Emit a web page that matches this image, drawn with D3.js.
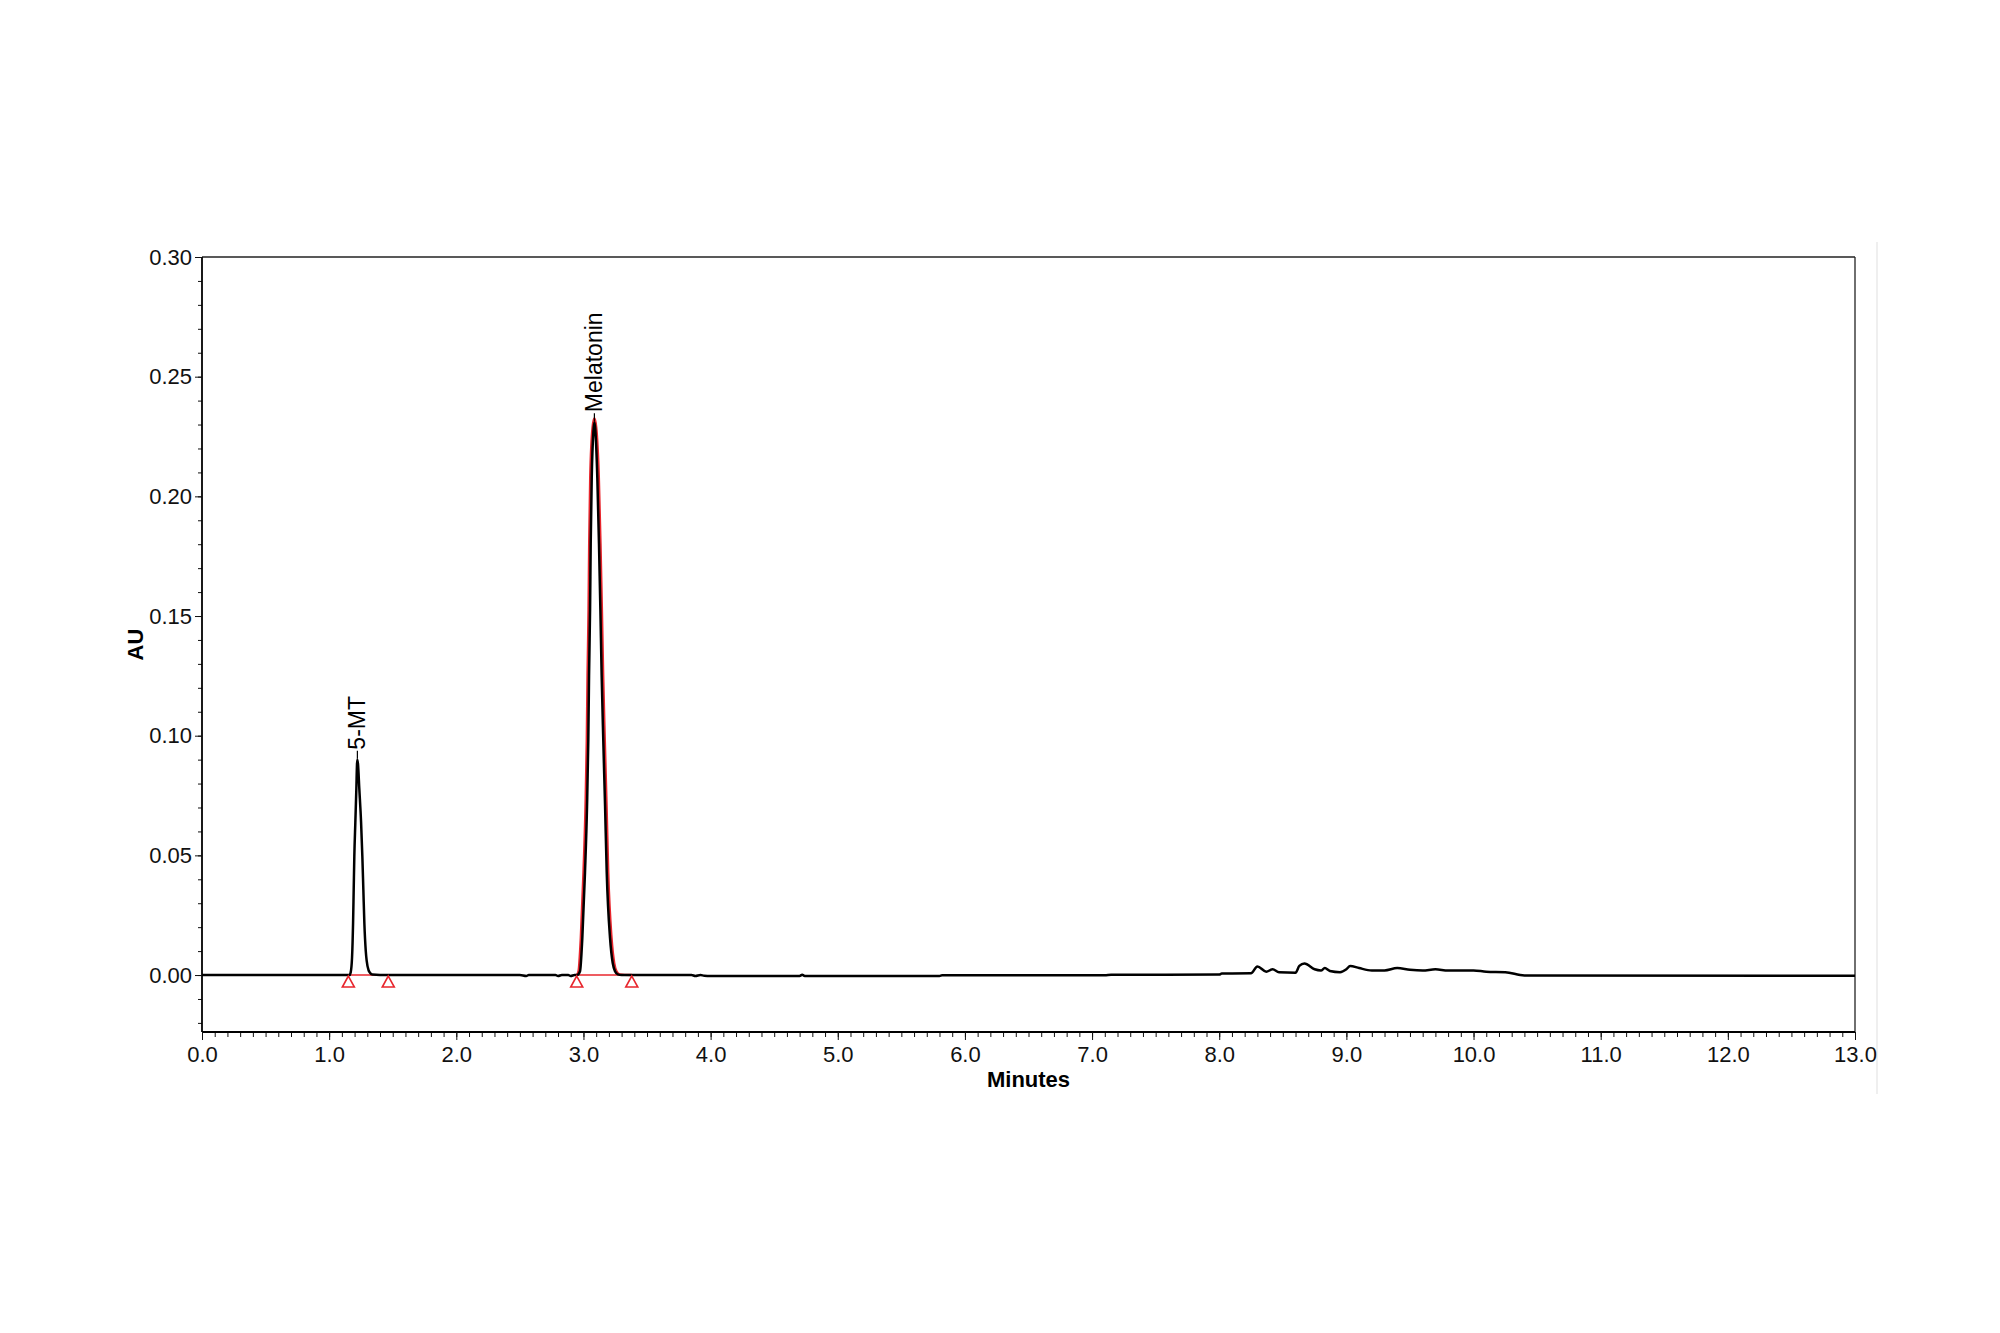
<!DOCTYPE html>
<html>
<head>
<meta charset="utf-8">
<script src="https://cdn.jsdelivr.net/npm/d3@7"></script>
<style>
  body { margin: 0; background: #fff; }
  svg { display: block; font-family: "Liberation Sans", Arial, sans-serif; }
</style>
</head>
<body>
<svg id="chart" width="2000" height="1333"></svg>
<script>
// axis ticks
var xMajor = [0,1,2,3,4,5,6,7,8,9,10,11,12,13];
var yMajor = [0.00,0.05,0.10,0.15,0.20,0.25,0.30];

// baseline (black trace outside the peaks) [minutes, AU]
var baseStart = [[0,0],[1.10,0],[1.16,0]];
var baseMid = [[1.34,0.0002],[1.40,0],[2.50,0],[2.55,-0.0004],[2.57,0],[2.78,0],[2.80,-0.0004],
  [2.83,0],[2.88,0],[2.90,-0.0004],[2.93,0],[2.95,0]];
var baseEnd = [[3.27,0.0003],[3.30,0],[3.85,0],[3.88,-0.0004],[3.92,0],[3.95,-0.0003],[4.0,-0.0004],
  [4.70,-0.0004],[4.72,0.0001],[4.74,-0.0004],[5.80,-0.0004],[5.82,-0.0001],[7.10,-0.0001],
  [7.15,0.0001],[8.0,0.0002],[8.02,0.0006],[8.25,0.0007],[8.30,0.0036],[8.37,0.0014],
  [8.42,0.0024],[8.47,0.0012],[8.60,0.0010],[8.63,0.0038],[8.67,0.0048],[8.75,0.0024],
  [8.80,0.0019],[8.83,0.0029],[8.87,0.0017],[8.95,0.0012],[9.0,0.0024],[9.03,0.0038],
  [9.1,0.0029],[9.2,0.0019],[9.3,0.0019],[9.4,0.0029],[9.5,0.0022],[9.6,0.0019],[9.7,0.0024],
  [9.8,0.0019],[10.0,0.0019],[10.1,0.0014],[10.25,0.0012],[10.4,-0.0002],[13.0,-0.0003]];

// 5-MT peak
var mtPeak = [[1.169,0.0010],[1.180,0.0073],[1.188,0.0215],[1.193,0.0356],[1.198,0.0497],
  [1.206,0.0639],[1.214,0.0780],[1.219,0.0880],[1.222,0.0900],[1.227,0.0880],[1.237,0.0780],
  [1.251,0.0639],[1.261,0.0497],[1.269,0.0356],[1.277,0.0215],[1.288,0.0100],[1.295,0.0060],
  [1.310,0.0020],[1.321,0.0010]];

// melatonin peak (black trace)
var melPeak = [[2.973,0.0016],[2.991,0.0154],[3.012,0.0428],[3.028,0.0703],[3.038,0.0978],
  [3.044,0.1253],[3.052,0.1527],[3.057,0.1802],[3.065,0.2077],[3.078,0.2270],[3.086,0.2310],
  [3.093,0.2280],[3.109,0.2077],[3.122,0.1802],[3.133,0.1527],[3.143,0.1253],[3.156,0.0978],
  [3.170,0.0703],[3.183,0.0428],[3.209,0.0154],[3.230,0.0050],[3.248,0.0016]];

// melatonin integration trace (red)
var melFit = [[2.947,0],[2.961,0.0016],[2.979,0.0154],[3.000,0.0428],[3.016,0.0703],[3.026,0.0978],
  [3.032,0.1253],[3.040,0.1527],[3.045,0.1802],[3.053,0.2077],[3.072,0.2290],[3.086,0.2325],
  [3.100,0.2290],[3.121,0.2077],[3.134,0.1802],[3.145,0.1527],[3.155,0.1253],[3.168,0.0978],
  [3.182,0.0703],[3.195,0.0428],[3.221,0.0154],[3.242,0.0050],[3.260,0.0016],[3.285,0.0003],[3.38,0]];

var peakNames = ["5-MT", "Melatonin"];
var peakTimes = [1.222, 3.086];
var peakHeights = [0.090, 0.231];
var markerStart = [1.151, 2.947];
var markerEnd = [1.465, 3.380];

(function () {
    var svg = d3.select("#chart");
    var left = 202, right = 1855, plotTop = 257, bottom = 1032;
    var red = "#e8262d";

    var x = d3.scaleLinear().domain([0, 13]).range([left, right]);
    var y = d3.scaleLinear().domain([-0.0238, 0.30]).range([bottom, plotTop]);

    var xMinor = d3.range(0, 131).map(function(d) { return d / 10; });
    var yMinor = d3.range(-2, 31).map(function(d) { return d / 100; });

    // faint line at the right edge of the picture
    svg.append("line")
        .attr("x1", 1877).attr("x2", 1877).attr("y1", 242).attr("y2", 1094)
        .style("stroke", "#efefef").style("stroke-width", 2);

    // frame top / right
    svg.append("line")
        .attr("x1", left).attr("x2", right).attr("y1", plotTop).attr("y2", plotTop)
        .style("stroke", "#222").style("stroke-width", 1.3);
    svg.append("line")
        .attr("x1", right).attr("x2", right).attr("y1", plotTop).attr("y2", bottom)
        .style("stroke", "#222").style("stroke-width", 1.3);

    // y axis
    var yMinorAxis = svg.append("g")
        .attr("transform", "translate(" + left + ",0)")
        .call(d3.axisLeft(y).tickValues(yMinor).tickSize(4).tickFormat(""));
    yMinorAxis.select(".domain").remove();

    var yAxis = svg.append("g")
        .attr("transform", "translate(" + left + ",0)")
        .call(d3.axisLeft(y).tickValues(yMajor).tickSize(7).tickPadding(3).tickFormat(d3.format(".2f")));
    yAxis.select(".domain").attr("d", "M0," + plotTop + "V" + bottom).style("stroke-width", 1.8);
    yAxis.selectAll("text").style("font-size", "22px").style("fill", "#111");

    // x axis
    var xMinorAxis = svg.append("g")
        .attr("transform", "translate(0," + bottom + ")")
        .call(d3.axisBottom(x).tickValues(xMinor).tickSize(5).tickFormat(""));
    xMinorAxis.select(".domain").remove();

    var xAxis = svg.append("g")
        .attr("transform", "translate(0," + bottom + ")")
        .call(d3.axisBottom(x).tickValues(xMajor).tickSize(8).tickPadding(6).tickFormat(d3.format(".1f")));
    xAxis.select(".domain").attr("d", "M" + left + ",0H" + right).style("stroke-width", 1.8);
    xAxis.selectAll("text").style("font-size", "22px").style("fill", "#111");

    svg.selectAll(".tick line").style("stroke", "#111");

    // axis titles
    svg.append("text")
        .attr("x", (left + right) / 2).attr("y", 1087)
        .attr("text-anchor", "middle")
        .style("font-size", "22px").style("font-weight", "bold")
        .text("Minutes");

    svg.append("text")
        .attr("transform", "translate(143," + ((plotTop + bottom) / 2) + ") rotate(-90)")
        .attr("text-anchor", "middle")
        .style("font-size", "22px").style("font-weight", "bold")
        .text("AU");

    svg.append("defs").append("clipPath").attr("id", "plot")
        .append("rect").attr("x", left).attr("y", plotTop)
        .attr("width", right - left).attr("height", bottom - plotTop);

    var plot = svg.append("g").attr("clip-path", "url(#plot)");

    var line = d3.line()
        .x(function(d) { return x(d[0]); })
        .y(function(d) { return y(d[1]); })
        .curve(d3.curveMonotoneX);

    // red baselines between markers
    for (var i = 0; i < markerStart.length; i++) {
        plot.append("line")
            .attr("x1", x(markerStart[i])).attr("x2", x(markerEnd[i]))
            .attr("y1", y(0)).attr("y2", y(0))
            .style("stroke", red).style("stroke-width", 1.6);
    }

    plot.append("path")
        .datum(melFit)
        .attr("d", line)
        .style("fill", "none")
        .style("stroke", red)
        .style("stroke-width", 2.4);

    var trace = [].concat(baseStart, mtPeak, baseMid, melPeak, baseEnd);
    plot.append("path")
        .datum(trace)
        .attr("d", line)
        .style("fill", "none")
        .style("stroke", "#000")
        .style("stroke-width", 2.5)
        .style("stroke-linejoin", "round");

    // peak start / end markers
    var markers = markerStart.concat(markerEnd);
    plot.selectAll("path.marker")
        .data(markers)
        .enter().append("path")
        .attr("class", "marker")
        .attr("d", function(d) {
            var cx = x(d), cy = y(0) + 1;
            return "M" + cx + "," + cy + "L" + (cx + 6) + "," + (cy + 11) + "L" + (cx - 6) + "," + (cy + 11) + "Z";
        })
        .style("fill", "none")
        .style("stroke", red)
        .style("stroke-width", 1.6);

    // peak labels
    for (var j = 0; j < peakNames.length; j++) {
        var px = x(peakTimes[j]), py = y(peakHeights[j]);
        svg.append("line")
            .attr("x1", px).attr("x2", px).attr("y1", py - 1).attr("y2", py - 9)
            .style("stroke", "#000").style("stroke-width", 1.2);
        svg.append("text")
            .attr("transform", "translate(" + (px + 8) + "," + (py - 10) + ") rotate(-90)")
            .attr("text-anchor", "start")
            .style("font-size", "23px")
            .text(peakNames[j]);
    }
})();
</script>
</body>
</html>
